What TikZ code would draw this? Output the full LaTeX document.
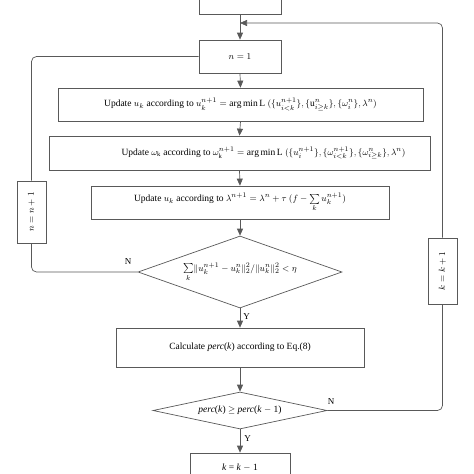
\documentclass[tikz,border=0pt]{standalone}
\usepackage{fontspec}
\setmainfont{Liberation Serif}
\usetikzlibrary{shapes.geometric,arrows.meta}
\begin{document}
\begin{tikzpicture}[x=1pt,y=-1pt,
  line width=0.7pt,
  every node/.style={font=\fontsize{9.5}{11}\selectfont},
  box/.style={draw=black!65, fill=white, rectangle, inner sep=0pt},
  dia/.style={draw=black!65, fill=white, diamond, inner sep=0pt},
  conn/.style={draw=black!65, line width=0.7pt},
  arr/.style={conn, -{Triangle[length=7pt,width=6pt]}},
  lab/.style={font=\fontsize{9}{10}\selectfont, inner sep=0pt},
  rounded corners=5pt]
\useasboundingbox (0,0) rectangle (474,474);
% nodes
\node[box, minimum width=82pt, minimum height=40pt, rounded corners=0pt] (top) at (240,-6) {};
\coordinate (j) at (240,23);
\node[box, minimum width=82pt, minimum height=33pt, rounded corners=0pt] (n1) at (240,56.5) {$n=1$};
\node[box, minimum width=365pt, minimum height=33pt, rounded corners=0pt] (b1) at (240.5,104.5)
  {Update $u_k$ according to $u_k^{n+1}=\arg\min\mathrm{L}\ (\{u_{i<k}^{n+1}\},\{\mathrm{u}_{i\geq k}^{n}\},\{\omega_i^n\},\lambda^n)$};
\node[box, minimum width=381pt, minimum height=34pt, rounded corners=0pt] (b2) at (239.5,153)
  {\hspace*{48pt}Update $\omega_{\mathrm{k}}$ according to $\omega_{\mathrm{k}}^{n+1}=\arg\min\mathrm{L}\ (\{u_i^{n+1}\},\{\omega_{i<k}^{n+1}\},\{\omega_{i\geq k}^{n}\},\lambda^n)$};
\node[box, minimum width=298pt, minimum height=33pt, rounded corners=0pt] (b3) at (240,202.5)
  {Update $u_k$ according to $\lambda^{n+1}=\lambda^n+\tau\ (f-\sum\limits_k u_k^{n+1})$};
\node[dia, minimum width=204pt, minimum height=72pt, shape aspect=2.83, rounded corners=0pt] (d1) at (240,272)
  {${\textstyle\sum\limits_k}\|u_k^{n+1}-u_k^n\|_2^2/\|u_k^n\|_2^2<\eta$};
\node[box, minimum width=248pt, minimum height=39pt, rounded corners=0pt] (calc) at (240,347.5)
  {Calculate \textit{perc}(\textit{k}) according to Eq.(8)};
\node[dia, minimum width=174pt, minimum height=37pt, shape aspect=4.7, rounded corners=0pt] (d2) at (240,410.5)
  {\textit{perc}(\textit{k}) $\geq$ \textit{perc}(\textit{k} $-$ 1)};
\node[box, minimum width=100pt, minimum height=30pt, rounded corners=0pt] (fin) at (240,468)
  {\textit{k} = \textit{k} $-$ 1};
\node[box, minimum width=29pt, minimum height=62pt, rounded corners=0pt] (nn) at (31.5,212)
  {\rotatebox{90}{$n=n+1$}};
\node[box, minimum width=29pt, minimum height=66pt, rounded corners=0pt] (kk) at (442.5,271)
  {\rotatebox{90}{$k=k+1$}};
% connectors
\draw[arr, rounded corners=0pt] (top.south) -- (n1.north);
\draw[arr, rounded corners=0pt] (n1.south) -- (b1.north);
\draw[arr, rounded corners=0pt] (b1.south) -- (b2.north);
\draw[arr, rounded corners=0pt] (b2.south) -- (b3.north);
\draw[arr, rounded corners=0pt] (b3.south) -- (d1.north);
\draw[arr, rounded corners=0pt] (d1.south) -- (calc.north);
\draw[arr, rounded corners=0pt] (calc.south) -- (d2.north);
\draw[arr, rounded corners=0pt] (d2.south) -- (fin.north);
\draw[conn] (d1.west) -| (nn.south);
\draw[conn] (nn.north) |- (n1.west);
\draw[conn] (d2.east) -| (kk.south);
\draw[arr] (kk.north) |- (j);
% labels
\node[lab] (lN1) at (128,262) {N};
\node[lab] (lY1) at (246.5,317) {Y};
\node[lab] (lN2) at (331,402) {N};
\node[lab] (lY2) at (247.5,439) {Y};
\end{tikzpicture}
\end{document}
